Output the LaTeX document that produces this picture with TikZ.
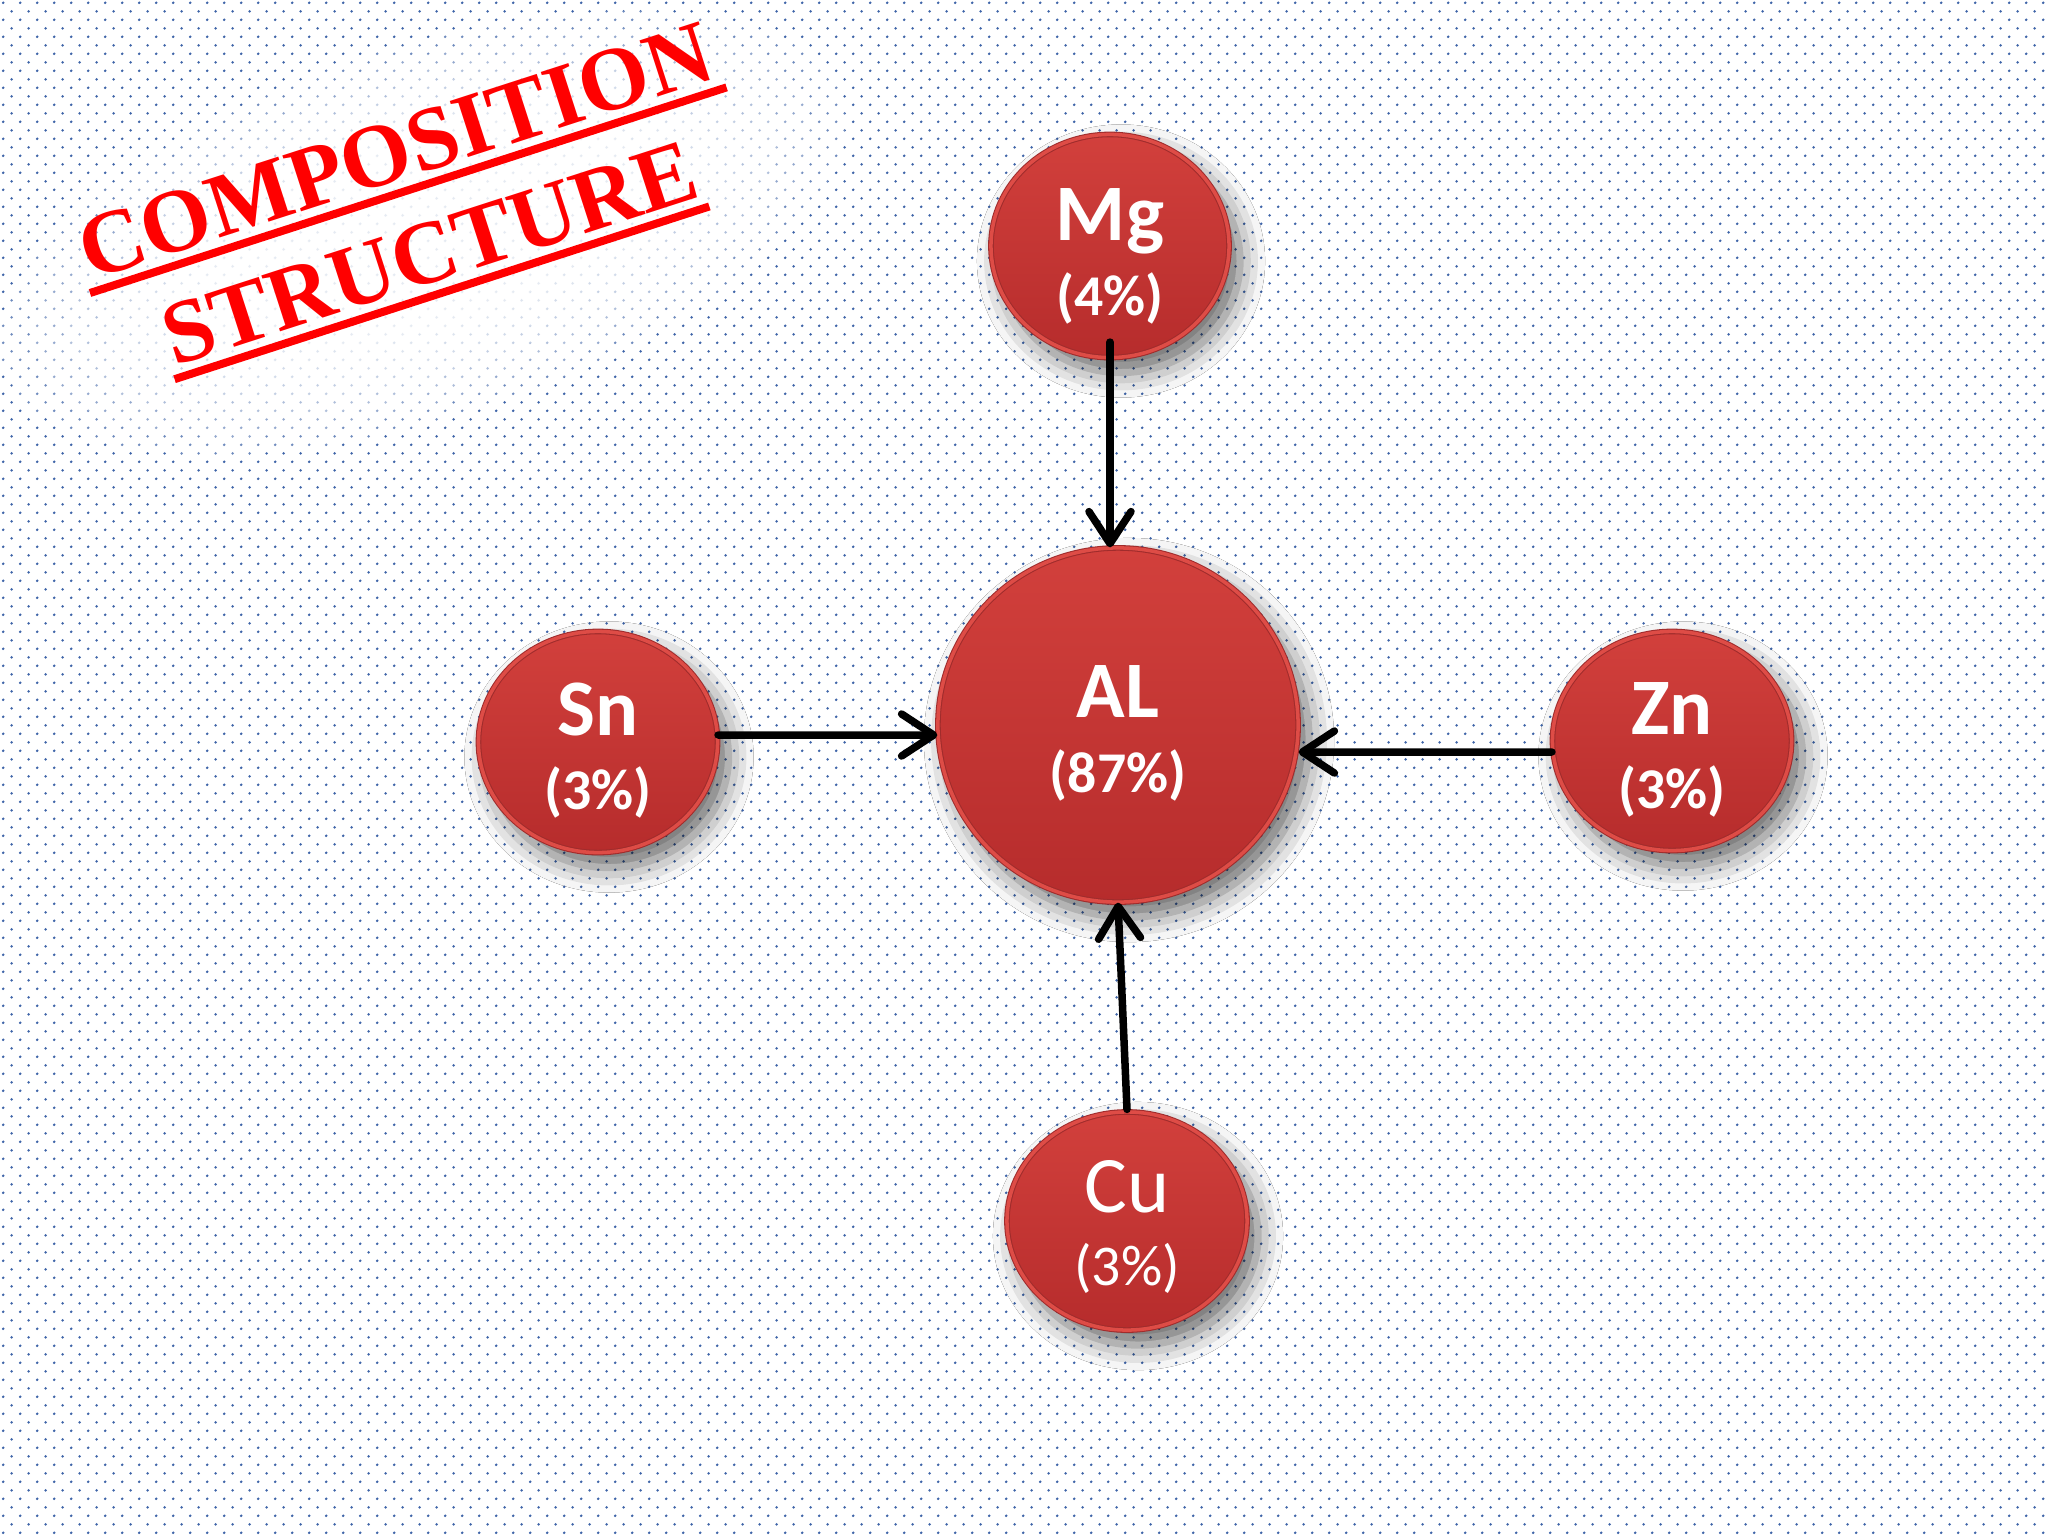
\documentclass[tikz,border=0pt]{standalone}
\usepackage{fontspec}
\newfontfamily\carlito{Carlito}
\newfontfamily\titlefont{Liberation Serif}
\usetikzlibrary{shapes.geometric,arrows.meta,calc,patterns.meta,shadows.blur}
\definecolor{dotblue}{RGB}{62,100,168}
\definecolor{ctop}{RGB}{210,64,60}
\definecolor{cbot}{RGB}{182,44,44}
\definecolor{crim}{RGB}{222,76,70}
\definecolor{cedge}{RGB}{160,44,44}
\definecolor{titlered}{RGB}{255,0,0}
\pgfdeclarepattern{
  name=bgdots,
  type=colored,
  bottom left={\pgfpointorigin},
  top right={\pgfpoint{4.95pt}{4.95pt}},
  tile size={\pgfpoint{4.95pt}{4.95pt}},
  code={
    \pgfsetfillcolor{dotblue}
    \pgfpathcircle{\pgfpoint{1.2375pt}{1.2375pt}}{0.42pt}
    \pgfpathcircle{\pgfpoint{3.7125pt}{3.7125pt}}{0.42pt}
    \pgfusepath{fill}
  }
}
\begin{document}
\begin{tikzpicture}[x=0.01cm,y=-0.01cm,
  circ/.style={ellipse, inner sep=0pt, draw=cedge, line width=0.3pt,
    double=crim, double distance=1.0pt,
    top color=ctop, bottom color=cbot,
    blur shadow={shadow xshift=0.11cm, shadow yshift=-0.15cm, shadow blur radius=0.25cm, shadow opacity=60}},
  bigb/.style={anchor=base, inner sep=0pt, text=white, font=\carlito\bfseries\fontsize{22.8}{26}\selectfont},
  smallb/.style={anchor=base, inner sep=0pt, text=white, font=\carlito\bfseries\fontsize{16.4}{20}\selectfont},
  bigr/.style={anchor=base, inner sep=0pt, text=white, font=\carlito\fontsize{22.8}{26}\selectfont},
  smallr/.style={anchor=base, inner sep=0pt, text=white, font=\carlito\fontsize{16.4}{20}\selectfont},
  titletext/.style={anchor=base, inner sep=0pt, text=titlered, font=\titlefont\bfseries\fontsize{25.6}{30}\selectfont},
  uline/.style={draw=titlered, line width=0.08cm},
  arr/.style={draw=black, line width=0.075cm, line cap=round,
    -{Straight Barb[length=0.32cm,width=0.42cm,line cap=round,line join=round]}}
]
\useasboundingbox (0,0) rectangle (2048,1536);
\fill[white] (0,0) rectangle (2048,1536);
\fill[pattern=bgdots] (0,0) rectangle (2048,1536);

% white glow behind the title
\begin{scope}[shift={(90,293)}, rotate=17.9]
  \foreach \r in {1.00,0.92,...,0.5}
    \fill[white, opacity=0.26] (335,45) ellipse [x radius=\r*440, y radius=\r*185];
\end{scope}

% title
\begin{scope}[shift={(90,293)}, rotate=17.9, transform shape]
  \node[titletext] (t1) at (334,-12) {COMPOSITION};
  \node[titletext] (t2) at (335,96) {STRUCTURE};
  \draw[uline] (0,0) -- (669,0);
  \draw[uline] (54,108) -- (616,108);
\end{scope}

% circles
\node[circ, minimum width=3.60cm, minimum height=3.54cm] (AL) at (1118,725) {};
\node[circ, minimum width=2.38cm, minimum height=2.23cm] (Mg) at (1110,246) {};
\node[circ, minimum width=2.39cm, minimum height=2.21cm] (Sn) at (598,742) {};
\node[circ, minimum width=2.39cm, minimum height=2.19cm] (Zn) at (1672,741) {};
\node[circ, minimum width=2.40cm, minimum height=2.18cm] (Cu) at (1127,1221) {};

% labels
\node[bigb]   (ALa) at ($(AL.center)+(0,-8)$) {AL};
\node[smallb] (ALb) at ($(AL.center)+(0,67)$) {(87\%)};
\node[bigb]   (Mga) at ($(Mg.center)+(0,-6)$) {Mg};
\node[smallb] (Mgb) at ($(Mg.center)+(0,69)$) {(4\%)};
\node[bigb]   (Sna) at ($(Sn.center)+(0,-7)$) {Sn};
\node[smallb] (Snb) at ($(Sn.center)+(0,67)$) {(3\%)};
\node[bigb]   (Zna) at ($(Zn.center)+(0,-7)$) {Zn};
\node[smallb] (Znb) at ($(Zn.center)+(0,67)$) {(3\%)};
\node[bigr]   (Cua) at ($(Cu.center)+(0,-9)$) {Cu};
\node[smallr] (Cub) at ($(Cu.center)+(0,64)$) {(3\%)};

% arrows
\draw[arr] ([yshift=0.16cm]Mg.south) -- (Mg.south |- AL.north);
\draw[arr] ([yshift=0.07cm]Sn.east) -- ([yshift=-0.10cm]AL.west);
\draw[arr] ([yshift=-0.11cm]Zn.west) -- ([yshift=-0.27cm]AL.east);
\draw[arr] ([yshift=0.02cm]Cu.north) -- (AL.south);
\end{tikzpicture}
\end{document}
